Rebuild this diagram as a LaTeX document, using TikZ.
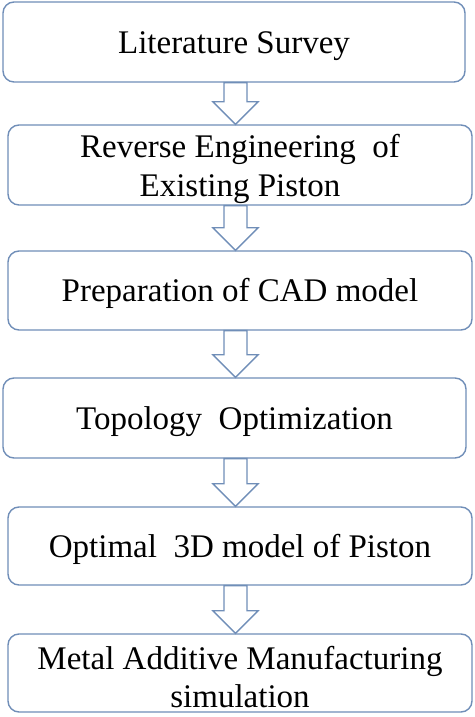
\documentclass[tikz,border=0pt]{standalone}
\usepackage{fontspec}
\setmainfont{Liberation Serif}
\definecolor{boxline}{RGB}{112,142,184}

\tikzset{
  stage/.style={draw=boxline, line width=1.4pt, rounded corners=11pt, fill=white,
    align=center, inner sep=0pt, text height=30pt,
    font=\fontsize{33}{38.5}\selectfont},
  twoline/.style={text height=70pt},
  flow/.style={draw=boxline, line width=1.4pt, fill=white, line join=miter}
}

\begin{document}
\begin{tikzpicture}[x=1pt, y=1pt]

\useasboundingbox (0,0) rectangle (474,717); %% page size

\newcommand\flowarrow[2]{
  \coordinate (s) at (#1.south -| ax);
  \coordinate (t) at (#2.north -| ax);
  \draw[flow] (t) -- ++(-22.5,22.5) -- ++(11,0) -- ([xshift=-11.5pt]s)
    -- ([xshift=11.5pt]s) -- ([shift={(11.5,22.5)}]t) -- ++(11,0) -- cycle;
}

\coordinate (ax) at (235.5,0);

\node[stage, minimum width=462, minimum height=80] (lit) at (234,675)
  {Literature Survey};
\node[stage, twoline, minimum width=464, minimum height=80] (rev) at (240,552)
  {Reverse Engineering\ \ of\\Existing Piston};
\node[stage, minimum width=464, minimum height=79] (cad) at (240,426.5)
  {Preparation of CAD model};
\node[stage, minimum width=463, minimum height=80] (topo) at (234.5,299)
  {Topology\ \ Optimization};
\node[stage, minimum width=464, minimum height=78] (opt) at (240,171)
  {Optimal\ \ 3D model of Piston};
\node[stage, twoline, minimum width=464, minimum height=78] (sim) at (240,44)
  {Metal Additive Manufacturing\\simulation};

\flowarrow{lit}{rev}
\flowarrow{rev}{cad}
\flowarrow{cad}{topo}
\flowarrow{topo}{opt}
\flowarrow{opt}{sim}

\end{tikzpicture}
\end{document}
